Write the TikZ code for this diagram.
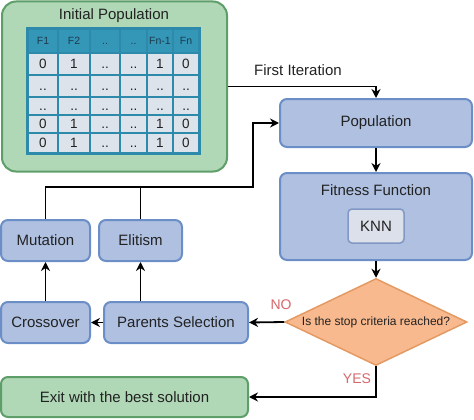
\documentclass[tikz,border=0pt]{standalone}
\usepackage{fontspec}
\setmainfont{Liberation Sans}
\usetikzlibrary{arrows.meta,positioning,shapes.geometric}
\definecolor{greenfill}{HTML}{B0D8B6}
\definecolor{greenline}{HTML}{5E9E68}
\definecolor{bluefill}{HTML}{AFC0E1}
\definecolor{blueline}{HTML}{6C8EC6}
\definecolor{knnfill}{HTML}{DCE0EA}
\definecolor{knnline}{HTML}{8197C4}
\definecolor{headfill}{HTML}{3497B8}
\definecolor{headline}{HTML}{2E8AAB}
\definecolor{cellfill}{HTML}{DDE3EA}
\definecolor{headtext}{HTML}{1E3A4E}
\definecolor{orangefill}{HTML}{F9B98E}
\definecolor{orangeline}{HTML}{E39A63}
\definecolor{answerred}{HTML}{D6676B}
\definecolor{textgray}{HTML}{222222}
\newcommand{\dd}{..}
\tikzset{
  title/.style={font=\fontsize{15}{17}\selectfont,text=textgray},
  gbox/.style={rounded corners=14pt,draw=greenline,fill=greenfill,line width=2pt},
  exitbox/.style={rounded corners=7pt,draw=greenline,fill=greenfill,line width=2pt,font=\fontsize{15}{17}\selectfont,text=textgray},
  bbox/.style={rounded corners=7pt,draw=blueline,fill=bluefill,line width=2pt,font=\fontsize{15}{17}\selectfont,text=textgray},
  knnbox/.style={rounded corners=4pt,draw=knnline,fill=knnfill,line width=1.5pt,minimum width=56pt,minimum height=34pt,font=\fontsize{15}{17}\selectfont,text=textgray},
  hcell/.style={draw=headline,fill=headfill,line width=1.6pt,inner sep=0pt,minimum height=24pt,font=\fontsize{10.5}{12}\selectfont,text=headtext,text height=7.5pt,text depth=0pt},
  cell/.style={draw=headline,fill=cellfill,line width=1.6pt,inner sep=0pt,font=\fontsize{13.5}{15}\selectfont,text=textgray,text height=9.5pt,text depth=0pt},
  crit/.style={diamond,draw=orangeline,fill=orangefill,line width=1.5pt,inner sep=0pt,minimum width=182pt,minimum height=87pt},
  question/.style={font=\fontsize{12}{14}\selectfont,text=textgray},
  answer/.style={font=\fontsize{14}{16}\selectfont,text=answerred},
  arr/.style={-{Stealth[length=9pt,width=9pt]},line width=1.8pt,draw=black},
  link/.style={line width=1.8pt,draw=black}
}

\begin{document}
\begin{tikzpicture}[x=1pt,y=-1pt]
\path[use as bounding box] (0,0) rectangle (474,420);

% initial population with its table
\node[gbox,minimum width=225pt,minimum height=170pt] (init) at (114.5,86.5) {};
\node[title] (inittitle) at (114,16) {Initial Population};
\foreach \x/\w/\t [count=\c] in {43/30/F1,74/32/F2,105/30/\dd,133.5/27/\dd,160/26/Fn-1,186/26/Fn}
  \node[hcell,minimum width=\w] (h\c) at (\x,41) {\t};
\foreach \x/\w/\t [count=\c] in {43/30/0,74/32/1,105/30/\dd,133.5/27/\dd,160/26/1,186/26/0}
  \node[cell,minimum width=\w,minimum height=22pt] (ra\c) at (\x,64) {\t};
\foreach \x/\w [count=\c] in {43/30,74/32,105/30,133.5/27,160/26,186/26}
  \node[cell,minimum width=\w,minimum height=22pt] (rb\c) at (\x,86) {\dd};
\foreach \x/\w [count=\c] in {43/30,74/32,105/30,133.5/27,160/26,186/26}
  \node[cell,minimum width=\w,minimum height=18pt] (rc\c) at (\x,106) {\dd};
\foreach \x/\w/\t [count=\c] in {43/30/0,74/32/1,105/30/\dd,133.5/27/\dd,160/26/1,186/26/0}
  \node[cell,minimum width=\w,minimum height=18pt] (rd\c) at (\x,124) {\t};
\foreach \x/\w/\t [count=\c] in {43/30/0,74/32/1,105/30/\dd,133.5/27/\dd,160/26/1,186/26/0}
  \node[cell,minimum width=\w,minimum height=20pt] (re\c) at (\x,143) {\t};
\draw[headline,line width=2pt] (h1.north west) rectangle (re6.south east);

% main loop
\node[bbox,minimum width=192pt,minimum height=48pt] (pop) at (376,123) {Population};
\node[bbox,minimum width=192pt,minimum height=87pt] (fit) at (376,216.5) {};
\node[title] (fittitle) at (376,190) {Fitness Function};
\node[knnbox] (knn) at (376,226) {KNN};
\node[crit] (stop) at (376,322) {};
\node[question] (stoptext) at (stop) {Is the stop criteria reached?};

\node[bbox,minimum width=144pt,minimum height=41pt] (sel) at (176,322.5) {Parents Selection};
\node[bbox,minimum width=89pt,minimum height=41pt] (cross) at (45.5,322.5) {Crossover};
\node[bbox,minimum width=89pt,minimum height=41pt] (mut) at (45.5,240.5) {Mutation};
\node[bbox,minimum width=83pt,minimum height=41pt] (eli) at (140.5,240.5) {Elitism};
\node[exitbox,minimum width=247pt,minimum height=40pt] (exit) at (124.5,397) {Exit with the best solution};

\coordinate (back) at (253,187);

\draw[arr] (init.east) -| (pop.north);
\node[title] (firstit) at (298,70) {First Iteration};
\draw[arr] (pop.south) -- (fit.north);
\draw[arr] (fit.south) -- (stop.north);
\draw[arr] (stop.west) -- (sel.east);
\node[answer] (no) at (281,305) {NO};
\draw[arr] (stop.south) |- (exit.east);
\node[answer] (yes) at (357,379) {YES};
\draw[arr] (sel.west) -- (cross.east);
\draw[arr] (cross.north) -- (mut.south);
\draw[arr] (sel.north -| eli) -- (eli.south);
\draw[arr] (mut.north) |- (back) |- (pop.west);
\draw[link] (eli.north) -- (eli.north |- back);
\end{tikzpicture}
\end{document}
